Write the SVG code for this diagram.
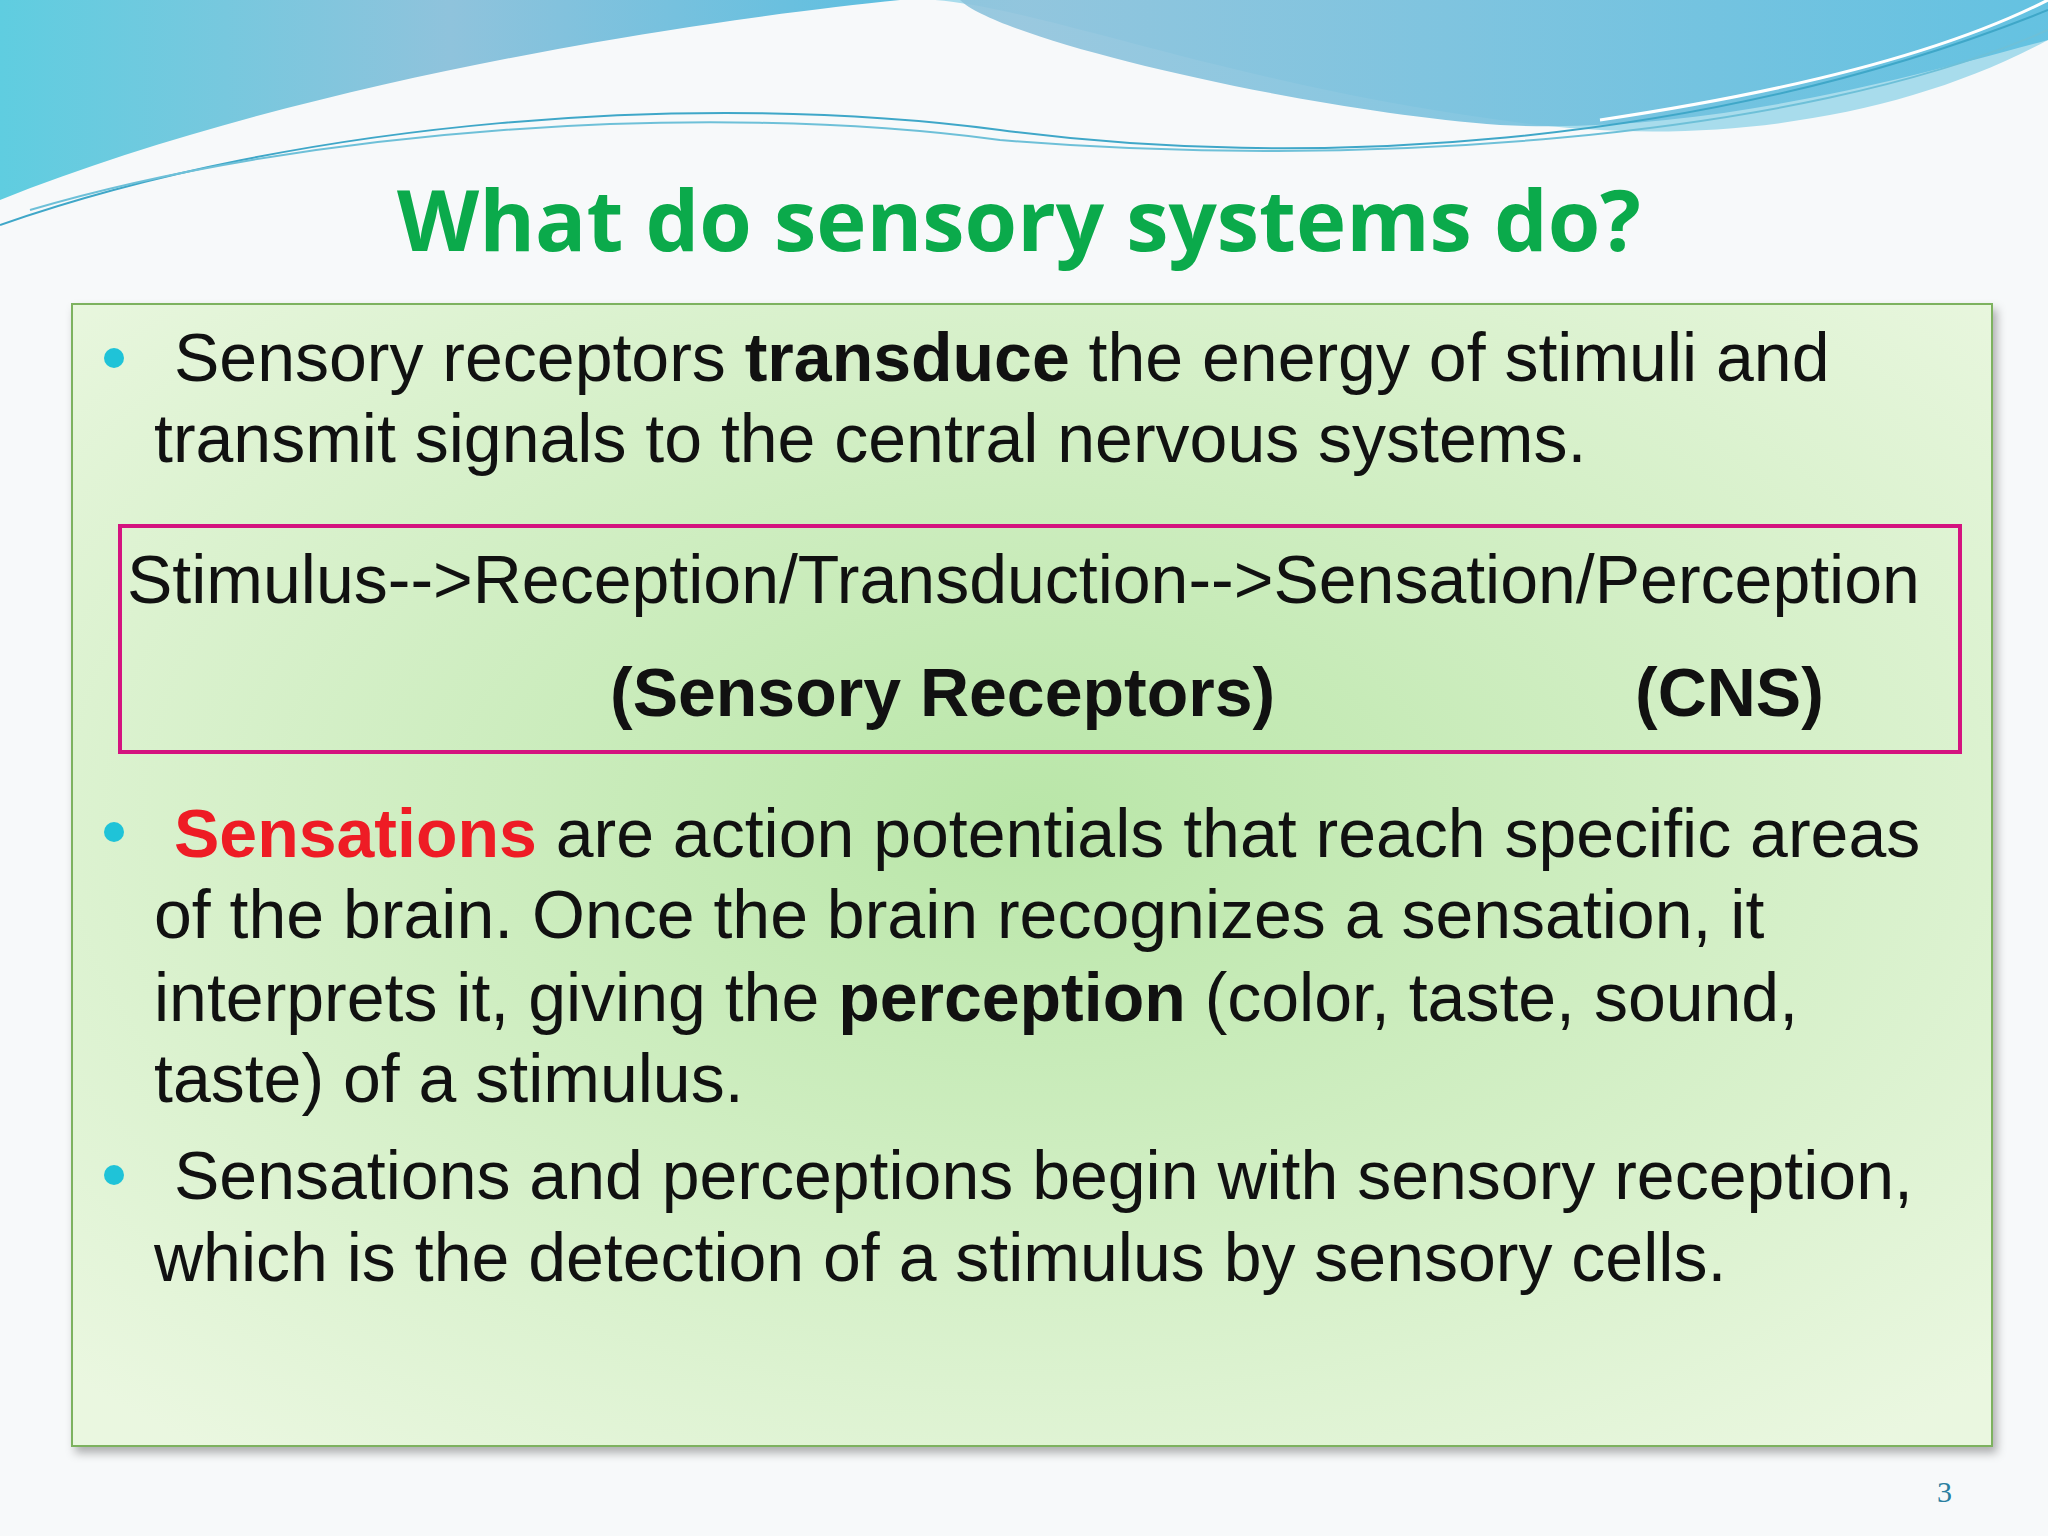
<svg xmlns="http://www.w3.org/2000/svg" width="2048" height="1536" viewBox="0 0 2048 1536">
<defs>
<linearGradient id="sky" x1="0" y1="0" x2="1" y2="0"><stop offset="0" stop-color="#5FCDE0"/><stop offset="0.5" stop-color="#8FC3DC"/><stop offset="1" stop-color="#5DBFE0"/></linearGradient>
<radialGradient id="box" cx="0.5" cy="0.45" r="0.7"><stop offset="0" stop-color="#B9E6A8"/><stop offset="1" stop-color="#EAF7E0"/></radialGradient>
<filter id="sh" x="-5%" y="-5%" width="110%" height="110%"><feDropShadow dx="4" dy="6" stdDeviation="5" flood-color="#000" flood-opacity="0.3"/></filter>
<style>
.t{font-family:"Liberation Sans",Arial,sans-serif;font-size:68px;fill:#111}
.b{font-weight:bold}
.dot{fill:#1FC3D8}
</style>
</defs>
<rect width="2048" height="1536" fill="#F7F9FA"/>
<g id="waves">
<path d="M0,0 H2048 V40 C1900,120 1700,150 1500,120 C1200,80 1000,-10 900,0 Z" fill="#A8DCEC"/>
<path d="M0,0 H960 C1000,40 1300,110 1500,125 C1700,135 1900,80 2048,40 V0 Z" fill="url(#sky)" opacity="0.9"/>
<path d="M0,0 H900 C700,20 300,80 0,200 Z" fill="url(#sky)"/>
<path d="M0,225 C300,120 700,90 1000,130 C1300,170 1700,150 2048,10" fill="none" stroke="#3FA7C8" stroke-width="2"/>
<path d="M30,210 C300,130 700,100 1000,140 C1350,170 1800,140 2048,30" fill="none" stroke="#6EC0D8" stroke-width="2"/>
<path d="M1600,120 C1800,90 1950,50 2048,0" fill="none" stroke="#FFFFFF" stroke-width="3"/>
</g>
<g id="title"><text x="1019" y="251" text-anchor="middle" font-family="'Open Sans',sans-serif" font-weight="bold" font-size="85" fill="#0BAA4B">What do sensory systems do?</text></g>
<g id="content">
<rect x="72" y="304" width="1920" height="1142" fill="url(#box)" stroke="#7DB25E" stroke-width="2" filter="url(#sh)"/>
<circle class="dot" cx="114" cy="358" r="10"/>
<text class="t" x="174" y="381"><tspan>Sensory receptors </tspan><tspan class="b">transduce</tspan><tspan> the energy of stimuli and</tspan></text>
<text class="t" x="154" y="462">transmit signals to the central nervous systems.</text>
<g id="flowbox">
<rect x="120" y="526" width="1840" height="226" fill="none" stroke="#D4137F" stroke-width="4"/>
<text class="t" x="127" y="603" font-size="69">Stimulus--&gt;Reception/Transduction--&gt;Sensation/Perception</text>
<text class="t b" x="610" y="716">(Sensory Receptors)</text>
<text class="t b" x="1635" y="716">(CNS)</text>
</g>
<circle class="dot" cx="114" cy="832" r="10"/>
<text class="t" x="174" y="857"><tspan class="b" fill="#EE1C25">Sensations</tspan><tspan> are action potentials that reach specific areas</tspan></text>
<text class="t" x="154" y="938">of the brain. Once the brain recognizes a sensation, it</text>
<text class="t" x="154" y="1021"><tspan>interprets it, giving the </tspan><tspan class="b">perception</tspan><tspan> (color, taste, sound,</tspan></text>
<text class="t" x="154" y="1102">taste) of a stimulus.</text>
<circle class="dot" cx="114" cy="1175" r="10"/>
<text class="t" x="174" y="1199">Sensations and perceptions begin with sensory reception,</text>
<text class="t" x="154" y="1281">which is the detection of a stimulus by sensory cells.</text>
</g>
<text x="1937" y="1502" font-family="'Liberation Serif',serif" font-size="30" fill="#2A7FA0">3</text>
</svg>
